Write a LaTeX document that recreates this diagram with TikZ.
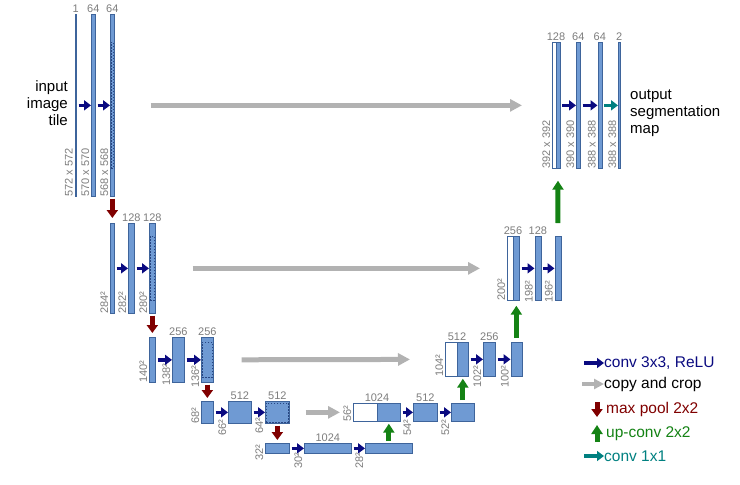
\documentclass[tikz,border=0pt]{standalone}
\usepackage{fontspec}
\setmainfont{Liberation Sans}
\usepackage{tikz}
\usetikzlibrary{arrows.meta}
\usetikzlibrary{positioning}
\definecolor{barfill}{RGB}{111,154,211}
\definecolor{barline}{RGB}{62,100,155}
\definecolor{cropline}{RGB}{40,70,130}
\definecolor{labgray}{RGB}{125,125,125}
\definecolor{convblue}{RGB}{10,10,128}
\definecolor{copygray}{RGB}{178,178,178}
\definecolor{poolred}{RGB}{128,0,0}
\definecolor{upgreen}{RGB}{20,130,20}
\definecolor{outteal}{RGB}{0,128,128}
\tikzstyle{every node}+=[inner sep=0pt]
\tikzstyle{fmap} = [rectangle, draw=barline, fill=barfill, line width=0.7pt, anchor=north west]
\tikzstyle{fcopy} = [fmap, fill=white]
\tikzstyle{cropbox} = [rectangle, draw=cropline, dash pattern=on 1.5pt off 1.5pt, line width=0.5pt]
\tikzstyle{chan} = [font=\fontsize{11}{12}\selectfont, text=labgray, yshift=1pt]
\tikzstyle{dimlab} = [font=\fontsize{11}{12}\selectfont, text=labgray, xshift=-1.5pt, rotate=90, anchor=south west]
\tikzstyle{conv} = [draw=convblue, line width=3.5pt, -{Triangle[length=7pt,width=10pt]}, shorten <=2pt]
\tikzstyle{copyline} = [draw=copygray, line width=5pt, -{Triangle[length=12pt,width=12pt]}]
\tikzstyle{pool} = [draw=poolred, line width=5pt, -{Triangle[length=8pt,width=11pt]}]
\tikzstyle{upconv} = [draw=upgreen, line width=5pt, -{Triangle[length=9pt,width=11pt]}]
\tikzstyle{outconv} = [conv, draw=outteal]
\tikzstyle{bigtext} = [font=\fontsize{15}{17}\selectfont]
\tikzstyle{legtext} = [font=\fontsize{15.5}{17}\selectfont, anchor=west]

\begin{document}
\begin{tikzpicture}[x=1pt, y=-1pt]
            \useasboundingbox (0,0) rectangle (740,485);
            % Place nodes
            % level 1
            \node [fmap, minimum width=1.5pt, minimum height=182pt, label={[chan]above:1}, label={[dimlab]south west:572 x 572}] (l1a) at (74.5,14) {};
            \node [fmap, minimum width=4pt, minimum height=182pt, label={[chan]above:64}, label={[dimlab]south west:570 x 570}] (l1b) at (91,14) {};
            \node [fmap, minimum width=4pt, minimum height=182pt, label={[chan]above:64}, label={[dimlab]south west:568 x 568}] (l1c) at (110,14) {};
            \node [cropbox, minimum width=2pt, minimum height=126pt] (k1) at (l1c.center) {};
            \node [fcopy, minimum width=4pt, minimum height=126pt, label={[dimlab]south west:392 x 392}] (r1w) at (552,42) {};
            \node [fmap, minimum width=3.5pt, minimum height=126pt, label={[chan, anchor=south]north west:128}] (r1a) at (556,42) {};
            \node [fmap, minimum width=4pt, minimum height=126pt, label={[chan]above:64}, label={[dimlab]south west:390 x 390}] (r1b) at (576,42) {};
            \node [fmap, minimum width=4pt, minimum height=126pt, label={[chan]above:64}, label={[dimlab]south west:388 x 388}] (r1c) at (597.5,42) {};
            \node [fmap, minimum width=1.5pt, minimum height=126pt, label={[chan]above:2}, label={[dimlab]south west:388 x 388}] (r1d) at (618,42) {};
            % level 2
            \node [fmap, minimum width=4pt, minimum height=90pt, label={[dimlab]south west:284²}] (l2a) at (110,223) {};
            \node [fmap, minimum width=6pt, minimum height=90pt, label={[chan]above:128}, label={[dimlab]south west:282²}] (l2b) at (128,223) {};
            \node [fmap, minimum width=6pt, minimum height=90pt, label={[chan]above:128}, label={[dimlab]south west:280²}] (l2c) at (149,223) {};
            \node [cropbox, minimum width=4pt, minimum height=64pt] (k2) at (l2c.center) {};
            \node [fcopy, minimum width=6pt, minimum height=64pt, label={[dimlab]south west:200²}] (r2w) at (507,236) {};
            \node [fmap, minimum width=6pt, minimum height=64pt, label={[chan, anchor=south]north west:256}] (r2a) at (513,236) {};
            \node [fmap, minimum width=6pt, minimum height=64pt, label={[chan]above:128}, label={[yshift=-2pt, dimlab]south west:198²}] (r2b) at (534.5,236) {};
            \node [fmap, minimum width=6pt, minimum height=64pt, label={[yshift=-2pt, dimlab]south west:196²}] (r2c) at (554.5,236) {};
            % level 3
            \node [fmap, minimum width=6pt, minimum height=45pt, label={[dimlab]south west:140²}] (l3a) at (149,337) {};
            \node [fmap, minimum width=12pt, minimum height=45pt, label={[chan]above:256}, label={[yshift=-3pt, dimlab]south west:138²}] (l3b) at (172,337) {};
            \node [fmap, minimum width=12pt, minimum height=45pt, label={[chan]above:256}, label={[yshift=-5pt, dimlab]south west:136²}] (l3c) at (201,337) {};
            \node [cropbox, minimum width=10pt, minimum height=35pt] (k3) at (l3c.center) {};
            \node [fcopy, minimum width=12pt, minimum height=34pt, label={[dimlab]south west:104²}] (r3w) at (445,342) {};
            \node [fmap, minimum width=11pt, minimum height=34pt, label={[chan, anchor=south]north west:512}] (r3a) at (457,342) {};
            \node [fmap, minimum width=12pt, minimum height=34pt, label={[chan]above:256}, label={[yshift=-11pt, dimlab]south west:102²}] (r3b) at (483,342) {};
            \node [fmap, minimum width=11pt, minimum height=34pt, label={[yshift=-11pt, dimlab]south west:100²}] (r3c) at (510.5,342) {};
            % level 4
            \node [fmap, minimum width=12pt, minimum height=22pt, label={[dimlab]south west:68²}] (l4a) at (201,401) {};
            \node [fmap, minimum width=23pt, minimum height=22pt, label={[chan]above:512}, label={[yshift=-12pt, dimlab]south west:66²}] (l4b) at (228,401) {};
            \node [fmap, minimum width=24pt, minimum height=22pt, label={[chan]above:512}, label={[yshift=-10pt, dimlab]south west:64²}] (l4c) at (265,401) {};
            \node [cropbox, minimum width=22pt, minimum height=19pt] (k4) at (l4c.center) {};
            \node [fcopy, minimum width=24pt, minimum height=18pt, label={[dimlab]south west:56²}] (r4w) at (353,403) {};
            \node [fmap, minimum width=23pt, minimum height=18pt, label={[chan, anchor=south]north west:1024}] (r4a) at (377,403) {};
            \node [fmap, minimum width=24pt, minimum height=18pt, label={[chan]above:512}, label={[yshift=-14pt, dimlab]south west:54²}] (r4b) at (413,403) {};
            \node [fmap, minimum width=23pt, minimum height=18pt, label={[yshift=-14pt, dimlab]south west:52²}] (r4c) at (451,403) {};
            % level 5
            \node [fmap, minimum width=24pt, minimum height=10pt, label={[yshift=-7pt, dimlab]south west:32²}] (l5a) at (265,443) {};
            \node [fmap, minimum width=47pt, minimum height=10pt, label={[chan]above:1024}, label={[yshift=-15pt, dimlab]south west:30²}] (l5b) at (304,443) {};
            \node [fmap, minimum width=47pt, minimum height=10pt, label={[yshift=-15pt, dimlab]south west:28²}] (l5c) at (365,443) {};
            % texts
            \node [bigtext, anchor=east, align=right] (intext) at (68,103) {input\\image\\tile};
            \node [bigtext, anchor=west, align=left] (outtext) at (630,113) {output\\segmentation\\map};
            % legend
            \node [legtext, text=convblue] (leg1) at (604,363) {conv 3x3, ReLU};
            \node [legtext, text=black] (leg2) at (604,384) {copy and crop};
            \node [legtext, text=poolred] (leg3) at (606,409) {max pool 2x2};
            \node [legtext, text=upgreen] (leg4) at (606,434) {up-conv 2x2};
            \node [legtext, text=outteal] (leg5) at (604,456) {conv 1x1};
            \coordinate (g1) at (584,363);
            \coordinate (g2) at (582,384);
            \coordinate (g3a) at (597,402);
            \coordinate (g3b) at (597,417);
            \coordinate (g4a) at (597,442);
            \coordinate (g4b) at (597,425);
            \coordinate (g5) at (584,456);
            % Draw edges
            \path [conv] (l1a) -- (l1b);
            \path [conv] (l1b) -- (l1c);
            \path [conv] (r1a) -- (r1b);
            \path [conv] (r1b) -- (r1c);
            \path [outconv] (r1c) -- (r1d);
            \path [conv] (l2a) -- (l2b);
            \path [conv] (l2b) -- (l2c);
            \path [conv] (r2a) -- (r2b);
            \path [conv] (r2b) -- (r2c);
            \path [conv] (l3a) -- (l3b);
            \path [conv] (l3b) -- (l3c);
            \path [conv] (r3a) -- (r3b);
            \path [conv] (r3b) -- (r3c);
            \path [conv] (l4a) -- (l4b);
            \path [conv] (l4b) -- (l4c);
            \path [conv] (r4a) -- (r4b);
            \path [conv] (r4b) -- (r4c);
            \path [conv] (l5a) -- (l5b);
            \path [conv] (l5b) -- (l5c);
            \path [copyline, shorten <=36pt, shorten >=30pt] (l1c) -- (r1w);
            \path [copyline, shorten <=37pt, shorten >=27pt] (l2c) -- (r2w);
            \path [copyline, shorten <=28pt, shorten >=35pt] (l3c) -- (r3w);
            \path [copyline, shorten <=16pt, shorten >=13pt] (l4c) -- (r4w);
            \path [pool, shorten <=2pt, shorten >=5pt] (l1c) -- (l2a);
            \path [pool, shorten <=2pt, shorten >=4pt] (l2c) -- (l3a);
            \path [pool, shorten <=2pt, shorten >=3pt] (l3c) -- (l4a);
            \path [pool, shorten <=2pt, shorten >=3pt] (l4c) -- (l5a);
            \path [upconv, shorten <=2pt, shorten >=2pt] (l5c) -- (r4a);
            \path [upconv, shorten <=3pt, shorten >=2pt] (r4c) -- (r3a);
            \path [upconv, shorten <=4pt, shorten >=5pt] (r3c) -- (r2a);
            \path [upconv, shorten <=13pt, shorten >=12pt] (r2c) -- (r1a);
            \path [conv, shorten <=0pt] (g1) -- (leg1);
            \path [copyline, line width=4.5pt, -{Triangle[length=10pt,width=10pt]}] (g2) -- (leg2);
            \path [pool] (g3a) -- (g3b);
            \path [upconv] (g4a) -- (g4b);
            \path [outconv, shorten <=0pt] (g5) -- (leg5);
          \end{tikzpicture}
\end{document}
